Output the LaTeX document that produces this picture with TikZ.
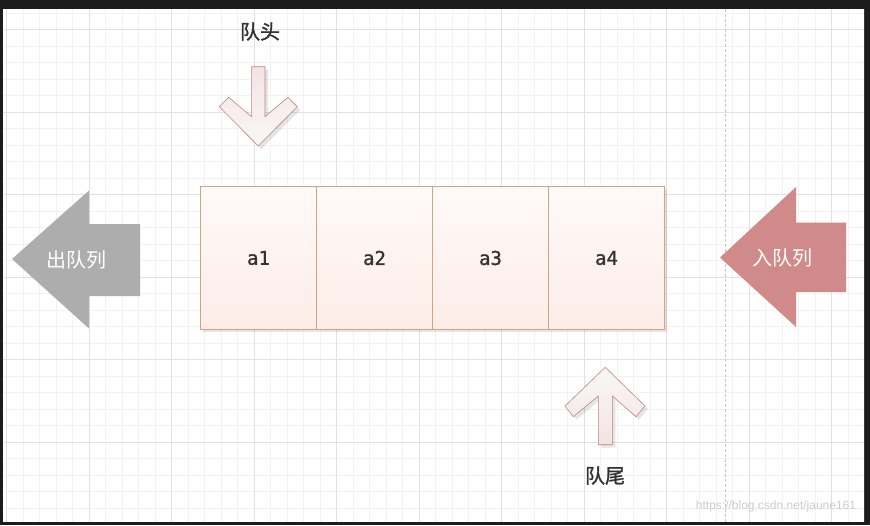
\documentclass[tikz,border=0pt]{standalone}
\usepackage{fontspec}
\usetikzlibrary{shadows}
\newfontfamily\cjk{Noto Sans CJK SC}
\newfontfamily\cjkdark{Noto Sans CJK SC}[FakeBold=1.4]
\newfontfamily\cellfont{DejaVu Sans Mono}[FakeBold=1.2]
\newfontfamily\urlfont{Liberation Sans}
\definecolor{framedark}{HTML}{1C1C1C}
\definecolor{gridminor}{HTML}{F2F2F2}
\definecolor{gridmajor}{HTML}{E1E1E1}
\definecolor{cellborder}{HTML}{D7A283}
\definecolor{celltop}{HTML}{FFFAF8}
\definecolor{cellbottom}{HTML}{FCECE7}
\definecolor{outgray}{HTML}{ADADAD}
\definecolor{inred}{HTML}{D08A89}
\definecolor{pointerline}{HTML}{C08484}
\definecolor{pointerpink}{HTML}{F3E3E3}
\definecolor{pointerwhite}{HTML}{FAF7F7}
\definecolor{textdark}{HTML}{333333}

\begin{document}
\begin{tikzpicture}[x=1pt, y=-1pt]
    \tikzstyle{cell}=[draw=cellborder, line width=1.3pt, top color=celltop, bottom color=cellbottom, minimum width=116pt, minimum height=143pt, inner sep=0pt, font=\cellfont\fontsize{19}{19}\selectfont, text=textdark]
    \tikzstyle{pointer}=[draw=pointerline, line width=0.6pt, line join=miter]
    \tikzstyle{caption}=[font=\cjkdark\fontsize{20}{20}\selectfont, text=textdark, inner sep=0pt]
    \tikzstyle{bigarrow}=[font=\cjk\fontsize{20}{20}\selectfont, text=white, inner sep=0pt]
    \tikzstyle{shade}=[fill=black, opacity=0.1]
    \useasboundingbox (0,0) rectangle (870,525);

    % draw frame and grid
    \fill [framedark] (0,0) rectangle (870,525);
    \fill [white] (2.5,9) rectangle (864,522);
    \begin{scope}
    \clip (2.5,9) rectangle (864,522);
    \foreach \i in {-6,...,47}
    \draw [gridminor, line width=0.8pt] (89+\i*16.5,9) -- (89+\i*16.5,522);
    \foreach \j in {-7,...,25}
    \draw [gridminor, line width=0.8pt] (2.5,112+\j*16.5) -- (864,112+\j*16.5);
    \foreach \i in {-1,...,9}
    \draw [gridmajor, line width=1pt] (89+\i*82.5,9) -- (89+\i*82.5,522);
    \foreach \j in {-1,...,5}
    \draw [gridmajor, line width=1pt] (2.5,112+\j*82.5) -- (864,112+\j*82.5);
    \end{scope}
    \draw [black!22, line width=0.8pt, dash pattern=on 3pt off 2pt] (725,9) -- (725,522);

    % draw queue cells
    \foreach \m [count=\x from 0] in {a1,a2,a3,a4}
    \fill [shade] (202.5+\x*116,188.5) rectangle (318.5+\x*116,331.5);
    \foreach \m [count=\x from 0] in {a1,a2,a3,a4}
    \node [cell] (cell-\m) at (258.5+\x*116,258) {\m};

    % draw big arrows
    \fill [outgray] (12,259) -- (89,190.5) -- (89,224) -- (140,224) -- (140,296) -- (89,296) -- (89,328.5) -- cycle;
    \node [bigarrow] (dequeue) at (76,260) {出队列};

    \fill [inred] (720,257.5) -- (796,187) -- (796,222.5) -- (846,222.5) -- (846,292) -- (796,292) -- (796,327) -- cycle;
    \node [bigarrow] (enqueue) at (782,258) {入队列};

    % draw head and tail pointers
    \fill [shade, shift={(3,3)}] (251.6,66.7) -- (265,66.7) -- (265,116.7) -- (288,97.3) -- (297.3,106.7) -- (258.3,146) -- (219.3,106.7) -- (228.6,97.3) -- (251.6,116.7) -- cycle;
    \path [pointer, top color=pointerpink, bottom color=pointerwhite] (251.6,66.7) -- (265,66.7) -- (265,116.7) -- (288,97.3) -- (297.3,106.7) -- (258.3,146) -- (219.3,106.7) -- (228.6,97.3) -- (251.6,116.7) -- cycle;
    \node [caption] (head) at (260,31.5) {队头};

    \fill [shade, shift={(3,3)}] (605.3,367.3) -- (645,406) -- (636,416.7) -- (612.3,396) -- (612.3,444.7) -- (598.3,444.7) -- (598.3,396) -- (573.3,416.7) -- (565,406) -- cycle;
    \path [pointer, top color=pointerwhite, bottom color=pointerpink] (605.3,367.3) -- (645,406) -- (636,416.7) -- (612.3,396) -- (612.3,444.7) -- (598.3,444.7) -- (598.3,396) -- (573.3,416.7) -- (565,406) -- cycle;
    \node [caption] (tail) at (605,475.5) {队尾};

    \node [font=\urlfont\fontsize{12}{12}\selectfont, text=black!20, inner sep=0pt] (watermark) at (776,506.5) {https://blog.csdn.net/jaune161};

  \end{tikzpicture}
\end{document}
